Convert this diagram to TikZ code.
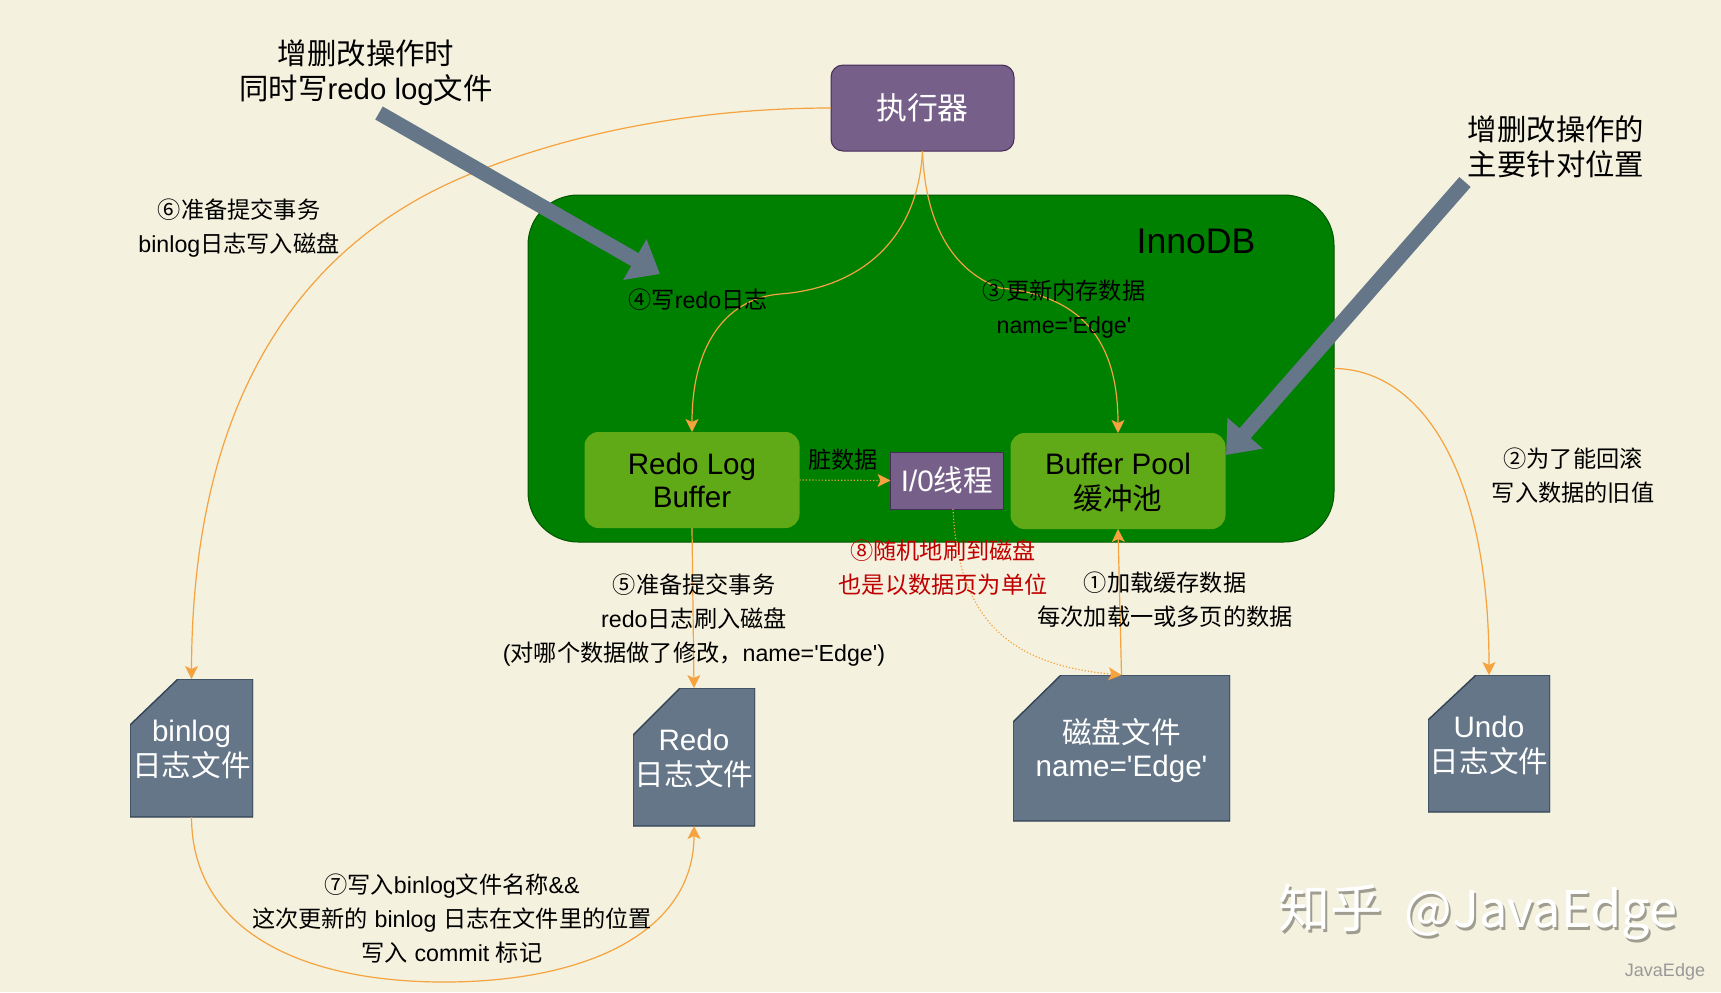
\documentclass[tikz,border=0pt]{standalone}
\usepackage{fontspec}
\usetikzlibrary{arrows.meta}
\newfontfamily\latinfont{Liberation Sans}
\newfontfamily\cjkfont{Noto Sans CJK SC}
\newcommand{\zh}[1]{{\cjkfont #1}}
\definecolor{paperColor}{HTML}{F4F1DE}
\definecolor{innoColor}{HTML}{008000}
\definecolor{innoLine}{HTML}{005700}
\definecolor{bufColor}{HTML}{60A917}
\definecolor{purpleColor}{HTML}{76608A}
\definecolor{purpleLine}{HTML}{432D57}
\definecolor{slateColor}{HTML}{647687}
\definecolor{slateLine}{HTML}{314354}
\definecolor{flowColor}{HTML}{F5A23F}
\definecolor{redColor}{HTML}{C00000}
\tikzset{
	lab/.style={font=\latinfont\fontsize{11.6}{17}\selectfont,inner sep=0},
	note/.style={font=\latinfont\fontsize{14.7}{16.8}\selectfont,inner sep=0},
	box/.style={font=\latinfont\fontsize{14.8}{16.8}\selectfont,inner sep=0,outer sep=0},
	inlab/.style={box,yshift=-2.2pt},
	bufbox/.style={box,fill=bufColor,rounded corners=7pt,minimum width=107.5pt,minimum height=48pt},
	filebox/.style 2 args={box,path picture={
		\draw[fill=slateColor,draw=slateLine,line width=.7pt]
			([xshift=#1]path picture bounding box.north west) -- (path picture bounding box.north east)
			-- (path picture bounding box.south east) -- (path picture bounding box.south west)
			-- ([yshift=-#2]path picture bounding box.north west) -- cycle;}},
	flow/.style={draw=flowColor,line width=.6pt,-{Stealth[length=6.5pt,width=6.5pt,inset=1.5pt]}},
	bigarrow/.style={draw=slateColor,line width=7.5pt,-{Triangle[length=14.5pt,width=22.5pt]}}
}
\begin{document}
\begin{tikzpicture}[x=.5pt,y=-.5pt]
	\path[use as bounding box,fill=paperColor] (0,0) rectangle (1721,992);

	\node[box,fill=innoColor,draw=innoLine,line width=.5pt,rounded corners=25pt,minimum width=403pt,minimum height=173.5pt] (inno) at (931,368.5) {};
	\node[box,fill=purpleColor,draw=purpleLine,line width=.5pt,rounded corners=6pt,minimum width=91.5pt,minimum height=43pt,text=white,font=\cjkfont\fontsize{15.4}{17}\selectfont] (exec) at (922.5,108) {执行器};
	\node[bufbox,label={[inlab]center:{\begin{tabular}{c} Redo Log \\ Buffer \end{tabular}}}] (redobuf) at (692,480) {};
	\node[bufbox,label={[inlab]center:{\begin{tabular}{c} Buffer Pool \\ \zh{缓冲池} \end{tabular}}}] (bufpool) at (1118,481) {};
	\node[box,fill=purpleColor,draw=purpleLine,line width=.5pt,minimum width=56.5pt,minimum height=28.5pt,text=white] (iothread) at (947,480.5) {I/0\zh{线程}};

	\node[filebox={24pt}{23pt},minimum width=61.5pt,minimum height=69pt,
		label={[inlab,text=white]center:{\begin{tabular}{c} binlog \\ \zh{日志文件} \end{tabular}}}] (binfile) at (191.5,748) {};
	\node[filebox={23.5pt}{23.5pt},minimum width=61pt,minimum height=69pt,
		label={[inlab,text=white]center:{\begin{tabular}{c} Redo \\ \zh{日志文件} \end{tabular}}}] (redofile) at (694,757) {};
	\node[filebox={24pt}{23.5pt},minimum width=108.5pt,minimum height=73pt,
		label={[inlab,text=white]center:{\begin{tabular}{c} \zh{磁盘文件} \\ name='Edge' \end{tabular}}}] (diskfile) at (1121.5,748) {};
	\node[filebox={24pt}{22.5pt},minimum width=61pt,minimum height=68.5pt,
		label={[inlab,text=white]center:{\begin{tabular}{c} Undo \\ \zh{日志文件} \end{tabular}}}] (undofile) at (1489,743.5) {};

	% curves
	\draw[flow] (exec.west) .. controls (720,108) and (590,125) .. (468,175) .. controls (300,244) and (192,400) .. (binfile.north);
	\draw[flow] (exec.south) .. controls (918,240) and (860,288) .. (780,294) .. controls (730,298) and (692,340) .. (redobuf.north);
	\draw[flow] (exec.south) .. controls (925,220) and (950,270) .. (1000,288) .. controls (1090,296) and (1118,350) .. (bufpool.north);
	\draw[flow] (redobuf.south) -- (redofile.north);
	\draw[flow] (diskfile.north) -- (bufpool.south);
	\draw[flow] (inno.east) .. controls (1420,369) and (1489,470) .. (undofile.north);
	\draw[flow] (binfile.south) .. controls (192,930) and (300,982) .. (444,982) .. controls (590,982) and (694,930) .. (redofile.south);
	\draw[flow,densely dotted] (redobuf.east) -- (iothread.west);
	\draw[flow,densely dotted] ([xshift=3pt]iothread.south) .. controls (958,620) and (1010,665) .. (diskfile.north);

	\coordinate (leftTail) at (379,113);
	\coordinate (leftTip) at (660,274);
	\coordinate (rightTail) at (1465,182);
	\coordinate (rightTip) at (1226,455);
	\draw[bigarrow] (leftTail) -- (leftTip);
	\draw[bigarrow] (rightTail) -- (rightTip);

	\node[box,font=\latinfont\fontsize{17.8}{20}\selectfont] (innolab) at (1196,241) {InnoDB};
	\node[note] (leftnote) at (366,75) {\begin{tabular}{c} \zh{增删改操作时} \\ \zh{同时写}redo log\zh{文件} \end{tabular}};
	\node[note] (rightnote) at (1556,151) {\begin{tabular}{c} \zh{增删改操作的} \\ \zh{主要针对位置} \end{tabular}};
	\node[lab] (stepsix) at (239,229) {\begin{tabular}{c} \zh{⑥准备提交事务} \\ binlog\zh{日志写入磁盘} \end{tabular}};
	\node[lab] (stepfour) at (698,300) {\zh{④写}redo\zh{日志}};
	\node[lab] (stepthree) at (1064,310) {\begin{tabular}{c} \zh{③更新内存数据} \\ name='Edge' \end{tabular}};
	\node[lab] (dirty) at (843,460) {\zh{脏数据}};
	\node[lab,text=redColor] (stepeight) at (943,570) {\begin{tabular}{c} \zh{⑧随机地刷到磁盘} \\ \zh{也是以数据页为单位} \end{tabular}};
	\node[lab] (stepone) at (1165,602) {\begin{tabular}{c} \zh{①加载缓存数据} \\ \zh{每次加载一或多页的数据} \end{tabular}};
	\node[lab] (steptwo) at (1573,478) {\begin{tabular}{c} \zh{②为了能回滚} \\ \zh{写入数据的旧值} \end{tabular}};
	\node[lab] (stepfive) at (694,621) {\begin{tabular}{c} \zh{⑤准备提交事务} \\ redo\zh{日志刷入磁盘} \\ (\zh{对哪个数据做了修改，}name='Edge') \end{tabular}};
	\node[lab] (stepseven) at (452,921) {\begin{tabular}{c} \zh{⑦写入}binlog\zh{文件名称}\&\& \\ \zh{这次更新的} binlog \zh{日志在文件里的位置} \\ \zh{写入} commit \zh{标记} \end{tabular}};

	\node[inner sep=0,text=black!35!paperColor,font=\cjkfont\fontsize{26}{30}\selectfont] (markshadow) at (1480,915) {知乎\hspace{11pt}{\fontsize{25.2}{30}\selectfont @JavaEdge}};
	\node[inner sep=0,text=white,font=\cjkfont\fontsize{26}{30}\selectfont] (mark) at (1478,912) {知乎\hspace{11pt}{\fontsize{25.2}{30}\selectfont @JavaEdge}};
	\node[inner sep=0,text=black!40,font=\latinfont\fontsize{9}{11}\selectfont] (smallmark) at (1665,972) {JavaEdge};
\end{tikzpicture}
\end{document}
